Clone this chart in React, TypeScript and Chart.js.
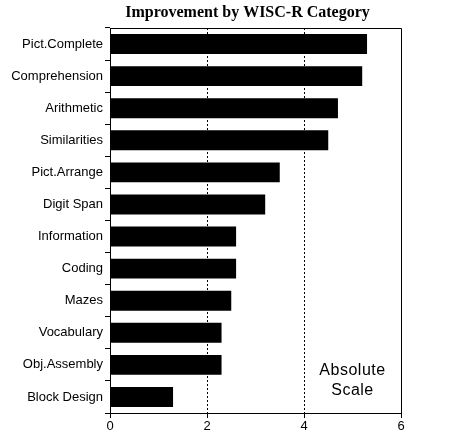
import React, { useEffect, useRef } from "react";
import { Chart, registerables } from "chart.js";

Chart.register(...registerables);

const categories = [
  "Pict.Complete",
  "Comprehension",
  "Arithmetic",
  "Similarities",
  "Pict.Arrange",
  "Digit Span",
  "Information",
  "Coding",
  "Mazes",
  "Vocabulary",
  "Obj.Assembly",
  "Block Design",
];
const improvement = [5.3, 5.2, 4.7, 4.5, 3.5, 3.2, 2.6, 2.6, 2.5, 2.3, 2.3, 1.3];
const xTicks = [0, 2, 4, 6];
const titleText = "Improvement by WISC-R Category";
const noteLines = ["Absolute", "Scale"];

const SANS = "'Liberation Sans', Arial, sans-serif";
const SERIF = "'Liberation Serif', 'Times New Roman', serif";

const decorPlugin = {
  id: "decor",
  afterDraw(chart: any) {
    const { ctx, chartArea } = chart;
    const { left, right, top, bottom } = chartArea;
    ctx.save();
    // box top and right
    ctx.strokeStyle = "#000";
    ctx.lineWidth = 1;
    ctx.setLineDash([]);
    ctx.beginPath();
    ctx.moveTo(Math.round(left) + 0.5, Math.round(top) + 0.5);
    ctx.lineTo(Math.round(right) + 0.5, Math.round(top) + 0.5);
    ctx.lineTo(Math.round(right) + 0.5, Math.round(bottom) + 0.5);
    ctx.stroke();
    // title
    ctx.fillStyle = "#000";
    ctx.font = `bold 16px ${SERIF}`;
    ctx.textAlign = "center";
    ctx.textBaseline = "middle";
    ctx.fillText(titleText, (left + right) / 2 - 8, 13);
    // note
    ctx.font = `16px ${SANS}`;
    try {
      (ctx as any).letterSpacing = "0.5px";
    } catch (e) {}
    const xs = chart.scales.x;
    const nx = xs.getPixelForValue(5.0);
    ctx.fillText(noteLines[0], nx, bottom - 42);
    ctx.fillText(noteLines[1], nx, bottom - 22);
    ctx.restore();
  },
};

export default function App() {
  const ref = useRef<HTMLCanvasElement | null>(null);
  useEffect(() => {
    if (!ref.current) return;
    const chart = new Chart(ref.current, {
      type: "bar",
      data: {
        labels: categories,
        datasets: [
          {
            data: improvement,
            backgroundColor: "#000",
            borderWidth: 0,
            barPercentage: 0.62,
            categoryPercentage: 1,
          },
        ],
      },
      options: {
        indexAxis: "y",
        animation: false,
        responsive: false,
        devicePixelRatio: 1,
        layout: { padding: { top: 28, right: 69, left: 0, bottom: 0 } },
        plugins: {
          legend: { display: false },
          tooltip: { enabled: false },
          title: { display: false },
        },
        scales: {
          x: {
            type: "linear",
            min: 0,
            max: 6,
            afterFit: (s: any) => {
              s.height = 23;
            },
            afterBuildTicks: (s: any) => {
              s.ticks = xTicks.map((v) => ({ value: v }));
            },
            ticks: {
              color: "#000",
              font: { family: SANS, size: 13 },
              padding: 1,
              maxRotation: 0,
            },
            grid: {
              color: (c: any) =>
                c.tick && (c.tick.value === 0 || c.tick.value === 6) ? "rgba(0,0,0,0)" : "#000",
              tickColor: "#000",
              tickLength: 5,
              lineWidth: 1,
              tickBorderDash: [],
            },
            border: { display: true, color: "#000", width: 1, dash: [2, 2] },
          },
          y: {
            type: "category",
            afterFit: (s: any) => {
              s.width = 110;
            },
            ticks: {
              color: "#000",
              font: { family: SANS, size: 13 },
              padding: 2,
            },
            grid: {
              drawOnChartArea: false,
              drawTicks: true,
              tickLength: 5,
              tickColor: "#000",
              color: "#000",
              offset: true,
            },
            border: { display: true, color: "#000", width: 1 },
          },
        },
      },
      plugins: [decorPlugin],
    });
    return () => chart.destroy();
  }, []);
  return (
    <div style={{ position: "absolute", left: 0, top: 0, width: 470, height: 436, background: "#fff" }}>
      <canvas ref={ref} width={470} height={436} style={{ display: "block" }} />
    </div>
  );
}
